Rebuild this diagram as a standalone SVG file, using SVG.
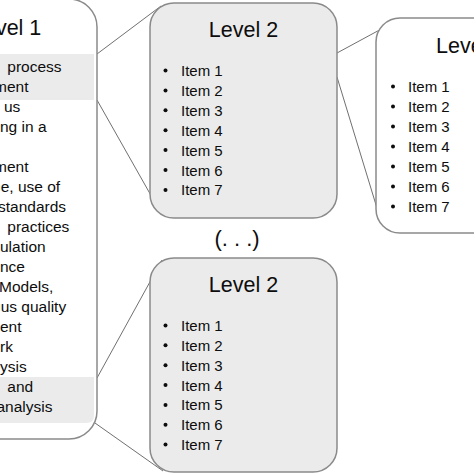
<svg xmlns="http://www.w3.org/2000/svg" width="474" height="474" viewBox="0 0 474 474">
<style>
  .box { stroke: #8a8a8a; stroke-width: 1.5; }
  .grey { fill: #ebebeb; }
  .white { fill: #ffffff; }
  .band { fill: #ebebeb; stroke: none; }
  .conn { stroke: #707070; stroke-width: 1; fill: none; }
  .t { font-family: "Liberation Sans", Arial, sans-serif; fill: #0d0d0d; }
  .title { font-size: 21.5px; }
  .item { font-size: 15px; }
  .body { font-size: 15.5px; }
  .dot { fill: #0d0d0d; }
</style>
<rect width="474" height="474" fill="#ffffff"/>

<g id="connectors">
  <line class="conn" x1="97" y1="54" x2="161" y2="6"/>
  <line class="conn" x1="97" y1="100" x2="153" y2="199"/>
  <line class="conn" x1="97" y1="378" x2="162" y2="260"/>
  <line class="conn" x1="95" y1="423" x2="163" y2="471"/>
  <line class="conn" x1="337" y1="53" x2="385" y2="27"/>
  <line class="conn" x1="337" y1="77" x2="380" y2="218"/>
</g>

<g id="level1">
  <rect class="box white" x="-40" y="-1" width="137" height="440" rx="28"/>
  <rect class="band" x="-10" y="54" width="104" height="46"/>
  <path class="band" d="M -10 377 H 94 V 415 Q 94 423 86 423 H -10 Z"/>
  <text class="t title" x="-28" y="35">Level 1</text>
  <g class="t body">
    <text x="7.3" y="72">process</text>
    <text x="-6" y="92">ment</text>
    <text x="4" y="112">us</text>
    <text x="0" y="132">ng in a</text>
    <text x="-6" y="172">ment</text>
    <text x="0.7" y="192">e, use of</text>
    <text x="-2" y="212">standards</text>
    <text x="7.3" y="232">practices</text>
    <text x="0" y="252">ulation</text>
    <text x="0" y="272">nce</text>
    <text x="-1" y="292">Models,</text>
    <text x="0.7" y="312">us quality</text>
    <text x="0" y="332">ent</text>
    <text x="0" y="352">rk</text>
    <text x="0" y="372">ysis</text>
    <text x="7.3" y="392">and</text>
    <text x="-3.5" y="412">analysis</text>
  </g>
</g>

<g id="level2-top">
  <rect class="box grey" x="150" y="3" width="187" height="215" rx="24"/>
  <text class="t title" x="243.5" y="37" text-anchor="middle">Level 2</text>
  <g class="dot">
    <circle cx="165.5" cy="70.5" r="2"/>
    <circle cx="165.5" cy="90.4" r="2"/>
    <circle cx="165.5" cy="110.3" r="2"/>
    <circle cx="165.5" cy="130.2" r="2"/>
    <circle cx="165.5" cy="150.1" r="2"/>
    <circle cx="165.5" cy="170" r="2"/>
    <circle cx="165.5" cy="189.9" r="2"/>
  </g>
  <g class="t item">
    <text x="181" y="76">Item 1</text>
    <text x="181" y="95.9">Item 2</text>
    <text x="181" y="115.8">Item 3</text>
    <text x="181" y="135.7">Item 4</text>
    <text x="181" y="155.6">Item 5</text>
    <text x="181" y="175.5">Item 6</text>
    <text x="181" y="195.4">Item 7</text>
  </g>
</g>

<g id="ellipsis">
  <text class="t" x="237" y="246" text-anchor="middle" font-size="22">(. . .)</text>
</g>

<g id="level2-bottom">
  <rect class="box grey" x="150" y="258" width="187" height="214" rx="24"/>
  <text class="t title" x="243.5" y="292" text-anchor="middle">Level 2</text>
  <g class="dot">
    <circle cx="165.5" cy="325.5" r="2"/>
    <circle cx="165.5" cy="345.35" r="2"/>
    <circle cx="165.5" cy="365.2" r="2"/>
    <circle cx="165.5" cy="385.05" r="2"/>
    <circle cx="165.5" cy="404.9" r="2"/>
    <circle cx="165.5" cy="424.75" r="2"/>
    <circle cx="165.5" cy="444.6" r="2"/>
  </g>
  <g class="t item">
    <text x="181" y="331">Item 1</text>
    <text x="181" y="350.85">Item 2</text>
    <text x="181" y="370.7">Item 3</text>
    <text x="181" y="390.55">Item 4</text>
    <text x="181" y="410.4">Item 5</text>
    <text x="181" y="430.25">Item 6</text>
    <text x="181" y="450.1">Item 7</text>
  </g>
</g>

<g id="level3">
  <rect class="box white" x="376" y="18" width="188" height="215" rx="24"/>
  <text class="t title" x="436" y="53">Leve</text>
  <g class="dot">
    <circle cx="393" cy="86.5" r="2"/>
    <circle cx="393" cy="106.5" r="2"/>
    <circle cx="393" cy="126.5" r="2"/>
    <circle cx="393" cy="146.5" r="2"/>
    <circle cx="393" cy="166.5" r="2"/>
    <circle cx="393" cy="186.5" r="2"/>
    <circle cx="393" cy="206.5" r="2"/>
  </g>
  <g class="t item">
    <text x="408" y="92">Item 1</text>
    <text x="408" y="112">Item 2</text>
    <text x="408" y="132">Item 3</text>
    <text x="408" y="152">Item 4</text>
    <text x="408" y="172">Item 5</text>
    <text x="408" y="192">Item 6</text>
    <text x="408" y="212">Item 7</text>
  </g>
</g>
</svg>
